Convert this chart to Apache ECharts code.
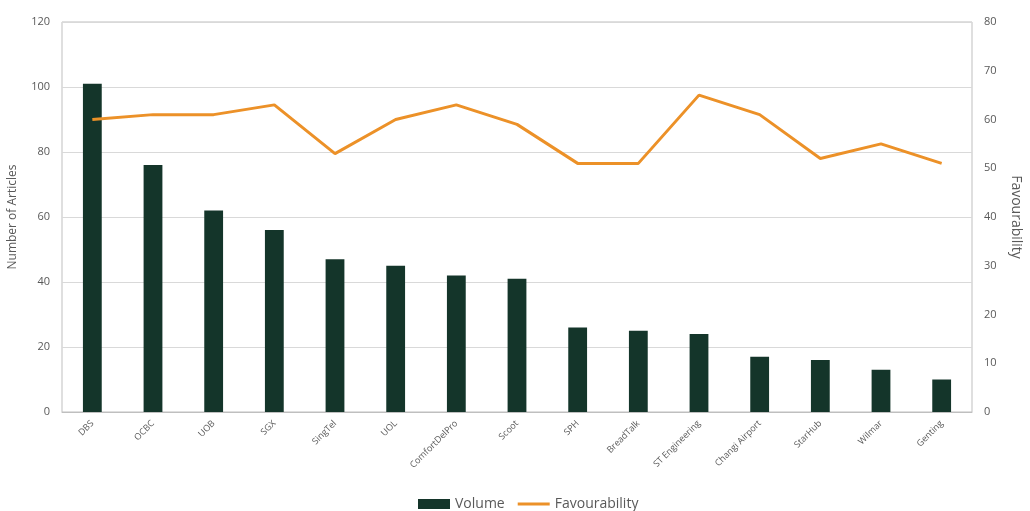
<!DOCTYPE html>
<html>
<head>
<meta charset="utf-8">
<script src="https://cdn.jsdelivr.net/npm/echarts@6/dist/echarts.min.js"></script>
<style>html,body{margin:0;padding:0;background:#fff;}#c{width:1030px;height:511px;}</style>
</head>
<body>
<div id="c"></div>
<script>
const categories = ['DBS','OCBC','UOB','SGX','SingTel','UOL','ComfortDelPro','Scoot','SPH','BreadTalk','ST Engineering','Changi Airport','StarHub','Wilmar','Genting'];
const volume = [101, 76, 62, 56, 47, 45, 42, 41, 26, 25, 24, 17, 16, 13, 10];
const favourability = [60, 61, 61, 63, 53, 60, 63, 59, 51, 51, 65, 61, 52, 55, 51];

const chart = echarts.init(document.getElementById('c'));
const txt = '#595959';
const font = 'Open Sans, Noto Sans, sans-serif';
chart.setOption({
  animation: false,
  backgroundColor: '#ffffff',
  textStyle: { fontFamily: font },
  grid: { left: 62, right: 58, top: 22, bottom: 99, outerBoundsMode: 'none', containLabel: false, show: true, borderColor: '#bfbfbf', borderWidth: 1, backgroundColor: 'transparent' },
  legend: {
    bottom: -5, left: 413,
    itemWidth: 32, itemHeight: 10, itemGap: 13,
    textStyle: { color: txt, fontSize: 14, fontFamily: font },
    data: [{ name: 'Volume', icon: 'rect' }, { name: 'Favourability', icon: 'path://M0,0H32V3H0Z' }]
  },
  xAxis: {
    type: 'category',
    data: categories,
    axisLine: { lineStyle: { color: '#bfbfbf' } },
    axisTick: { show: false },
    axisLabel: { rotate: 45, color: txt, fontSize: 9, margin: 10, interval: 0 }
  },
  yAxis: [
    {
      type: 'value', min: 0, max: 120, interval: 20,
      name: 'Number of Articles', nameLocation: 'middle', nameGap: 43, nameRotate: 90,
      nameTextStyle: { color: txt, fontSize: 12 },
      axisLine: { show: false }, axisTick: { show: false },
      axisLabel: { color: txt, fontSize: 11, margin: 12 },
      splitLine: { lineStyle: { color: '#d9d9d9' } }
    },
    {
      type: 'value', min: 0, max: 80, interval: 10,
      name: 'Favourability', nameLocation: 'middle', nameGap: 37, nameRotate: -90,
      nameTextStyle: { color: txt, fontSize: 14 },
      axisLine: { show: false }, axisTick: { show: false },
      axisLabel: { color: txt, fontSize: 11, margin: 12 },
      splitLine: { show: false }
    }
  ],
  series: [
    {
      name: 'Volume', type: 'bar', data: volume, yAxisIndex: 0,
      barWidth: '31%', itemStyle: { color: '#14352a' }
    },
    {
      name: 'Favourability', type: 'line', data: favourability, yAxisIndex: 1,
      symbol: 'none', lineStyle: { color: '#ec9128', width: 3 }, itemStyle: { color: '#ec9128' }
    }
  ]
});
</script>
</body>
</html>
